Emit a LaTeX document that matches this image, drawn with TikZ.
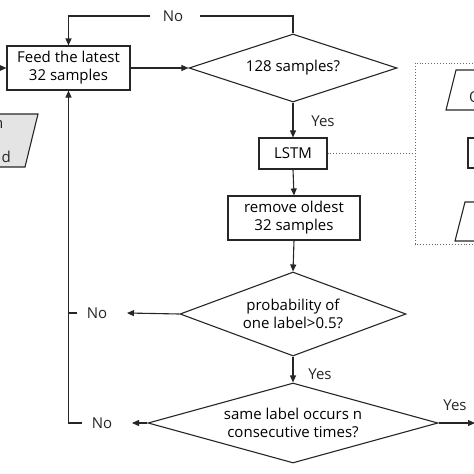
\documentclass[tikz,border=0pt]{standalone}
\usepackage{fontspec}
\setmainfont{Open Sans}
\usetikzlibrary{arrows.meta,shapes.geometric}
\definecolor{ink}{HTML}{262626}
\definecolor{pgray}{HTML}{E4E4E4}
\begin{document}
\begin{tikzpicture}[x=1pt,y=-1pt,
  font=\fontsize{15}{18}\selectfont,
  line/.style={draw=ink,line width=1.1pt},
  arr/.style={line,-{Triangle[length=7pt,width=6pt]}},
  boxnode/.style={line,fill=white,rectangle,align=center,inner sep=0pt},
  dia/.style={line,fill=white,diamond,align=center,inner sep=0pt},
  lbl/.style={text=ink,inner sep=0pt},
  dotl/.style={draw=ink!70,line width=0.9pt,dotted}]
\useasboundingbox (0,0) rectangle (474,474);
\clip (0,0) rectangle (474,474);
% nodes
\node[boxnode,minimum width=123pt,minimum height=44pt] (feed) at (68.5,68) {Feed the latest\\32 samples};
\node[dia,shape aspect=3.06,minimum width=208pt,minimum height=68pt] (d1) at (293,68) {128 samples?};
\node[boxnode,minimum width=68pt,minimum height=31pt] (lstm) at (293,153.5) {LSTM};
\node[boxnode,minimum width=132pt,minimum height=44pt] (rem) at (294,218) {remove oldest\\32 samples};
\node[dia,shape aspect=2.69,minimum width=226pt,minimum height=84pt] (d2) at (293,314) {probability of\\one label>0.5?};
\node[dia,shape aspect=3.62,minimum width=290pt,minimum height=80pt] (d3) at (293,423) {same label occurs n\\consecutive times?};
% labels
\node[lbl] (no1) at (173,16) {No};
\node[lbl] (yes1) at (323,121) {Yes};
\node[lbl] (no2) at (97,313) {No};
\node[lbl] (yes2) at (320,374) {Yes};
\node[lbl] (no3) at (102,423) {No};
\node[lbl] (yes3) at (455,405) {Yes};
% coordinates
\coordinate (t1) at (293,16);
\coordinate (t2) at (68.5,16);
\coordinate (gapl) at (150,16);
\coordinate (gapr) at (200,16);
\coordinate (a2) at (127,313);
\coordinate (k2) at (77,313);
\coordinate (a3) at (132,423);
\coordinate (k3) at (82,423);
\coordinate (v2) at (68.5,313);
\coordinate (ein) at (-6,68);
\coordinate (eout) at (475,423);
\coordinate (dl) at (415,153.5);
% connectors
\draw[arr] (feed.east) -- (d1.west);
\draw[line] (d1.north) -- (t1) -- (gapr);
\draw[arr] (gapl) -- (t2) -- (feed.north);
\draw[arr] (d1.south) -- (lstm.north);
\draw[arr] (lstm.south) -- (rem.north);
\draw[arr] (rem.south) -- (d2.north);
\draw[arr] (d2.south) -- (d3.north);
\draw[arr] (d2.west) -- (a2);
\draw[arr] (d3.west) -- (a3);
\draw[arr] (k3) -| (feed.south);
\draw[line] (v2) -- (k2);
\draw[arr] (ein) -- (feed.west);
\draw[arr] (d3.east) -- (eout);
% dotted group on the right
\draw[dotl] (lstm.east) -- (dl);
\draw[dotl] (490,63) -- (415,63) -- (415,244) -- (490,244);
\draw[line,fill=white] (490,70) -- (456,70) -- (446,110) -- (490,110);
\node[lbl,anchor=west] (r1) at (469,97) {O};
\draw[line,fill=white] (490,138) -- (468,138) -- (468,168) -- (490,168);
\draw[line,fill=white] (490,202) -- (465,202) -- (455,241) -- (490,241);
% left input shape
\draw[line,fill=pgray] (-40,114) -- (38,114) -- (25,167) -- (-40,167) -- cycle;
\node[lbl,anchor=base east] (l1) at (3.5,128) {n};
\node[lbl,anchor=base east] (l2) at (11,162) {d};
\end{tikzpicture}
\end{document}
